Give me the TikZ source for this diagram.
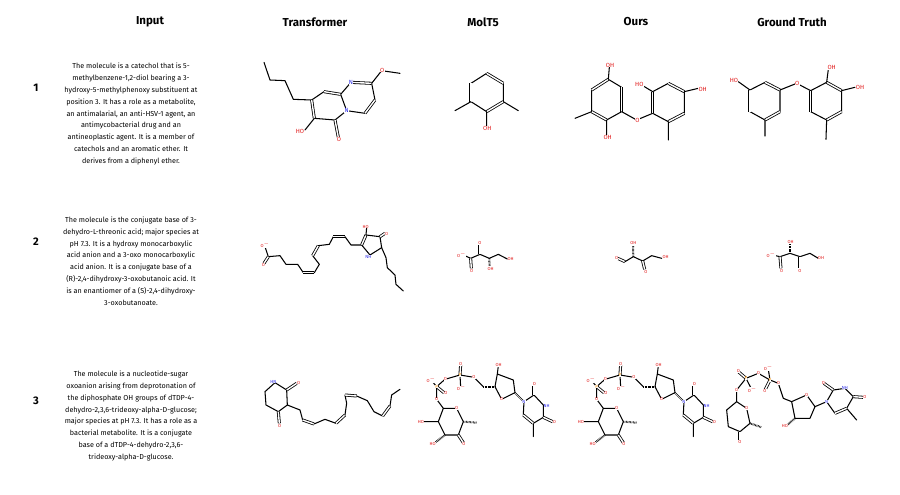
\documentclass[tikz,border=0pt]{standalone}
\usepackage{fontspec}
\setmainfont{Fira Sans}
\begin{document}
\begin{tikzpicture}[x=1pt,y=-1pt,
  bond/.style={line width=1.05pt,black,line cap=round,line join=round},
  dbl/.style={double=white,double distance=1.4pt,line width=0.8pt,black},
  hsh/.style={line width=2pt,black,dash pattern=on 0.6pt off 0.8pt},
  lab/.style={fill=white,inner sep=0.2pt,font=\fontsize{6}{6}\selectfont},
  lbs/.style={fill=white,inner sep=0.1pt,font=\fontsize{4.4}{5}\selectfont},
  head/.style={font=\bfseries\fontsize{11.5}{13}\selectfont},
  num/.style={font=\bfseries\fontsize{11}{13}\selectfont},
  desc/.style={align=center,font=\fontsize{7.2}{11.8}\selectfont}]
\newcommand\lb[4]{\node[lab,text=#4] at (#1,#2) {#3};}
\newcommand\ls[4]{\node[lbs,text=#4] at (#1,#2) {#3};}
\definecolor{ored}{RGB}{225,20,20}
\definecolor{nblue}{RGB}{40,40,230}
\definecolor{porange}{RGB}{240,140,0}
\fill[white] (0,0) rectangle (900,495);
\useasboundingbox (0,0) rectangle (900,495);
% headers
\node[head] (h1) at (150,22) {Input};
\node[head] (h2) at (315,22) {Transformer};
\node[head] (h3) at (483,22) {MolT5};
\node[head] (h4) at (636,22) {Ours};
\node[head] (h5) at (792,22) {Ground Truth};
\node[num] (n1) at (36,88) {1};
\node[num] (n2) at (36,242) {2};
\node[num] (n3) at (36,401) {3};
\node[desc] (d1) at (131,114) {The molecule is a catechol that is 5-\\methylbenzene-1,2-diol bearing a 3-\\hydroxy-5-methylphenoxy substituent at\\position 3. It has a role as a metabolite,\\an antimalarial, an anti-HSV-1 agent, an\\antimycobacterial drug and an\\antineoplastic agent. It is a member of\\catechols and an aromatic ether. It\\derives from a diphenyl ether.};
\node[desc] (d2) at (131,261) {The molecule is the conjugate base of 3-\\dehydro-L-threonic acid; major species at\\pH 7.3. It is a hydroxy monocarboxylic\\acid anion and a 3-oxo monocarboxylic\\acid anion. It is a conjugate base of a\\(R)-2,4-dihydroxy-3-oxobutanoic acid. It\\is an enantiomer of a (S)-2,4-dihydroxy-\\3-oxobutanoate.};
\node[desc] (d3) at (131,416) {The molecule is a nucleotide-sugar\\oxoanion arising from deprotonation of\\the diphosphate OH groups of dTDP-4-\\dehydro-2,3,6-trideoxy-alpha-D-glucose;\\major species at pH 7.3. It has a role as a\\bacterial metabolite. It is a conjugate\\base of a dTDP-4-dehydro-2,3,6-\\trideoxy-alpha-D-glucose.};
% ---------- row 1
\begin{scope}[xshift=250pt,yshift=-50pt,x=0.3333pt,y=-0.3333pt]
% Transformer
\draw[bond] (42,37)--(60,90)--(105,92)--(130,148)--(185,150);
\draw[bond] (222,125)--(185,150) (272,133)--(290,182)--(255,210) (193,205)--(255,210);
\draw[dbl] (185,150)--(193,205);
\draw[dbl] (222,125)--(272,133);
\draw[bond] (272,133)--(303,97) (365,100)--(375,150) (345,190)--(290,182);
\draw[dbl] (303,97)--(365,100);
\draw[dbl] (375,150)--(345,190);
\draw[bond] (193,205)--(165,240) (365,100)--(395,62)--(450,70);
\draw[dbl] (255,210)--(265,262);
\lb{303}{97}{N}{nblue} \lb{290}{182}{N}{nblue}
\lb{150}{245}{HO}{ored} \lb{267}{268}{O}{ored} \lb{397}{60}{O}{ored}
% MolT5
\draw[bond] (663,100)--(710,70) (760,100)--(760,155) (710,185)--(663,155);
\draw[dbl] (710,70)--(760,100);
\draw[dbl] (760,155)--(710,185);
\draw[dbl] (663,155)--(663,100);
\draw[bond] (663,155)--(615,182) (760,155)--(805,182) (710,185)--(710,228);
\lb{712}{236}{OH}{ored}
\end{scope}
\begin{scope}[xshift=570pt,yshift=-50pt,x=0.3333pt,y=-0.3333pt]
% Ours
\draw[bond] (115,88)--(155,112) (155,185)--(110,210) (65,185)--(65,120);
\draw[dbl] (155,112)--(155,185);
\draw[dbl] (110,210)--(65,185);
\draw[dbl] (65,120)--(115,88);
\draw[bond] (115,88)--(118,52) (65,185)--(15,205) (110,210)--(110,255) (155,185)--(200,210)--(248,190);
\draw[bond] (248,125)--(295,100) (343,125)--(343,190) (295,215)--(248,190);
\draw[dbl] (295,100)--(343,125);
\draw[dbl] (343,190)--(295,215);
\draw[dbl] (248,190)--(248,125);
\draw[bond] (248,125)--(215,105) (343,125)--(385,115) (295,215)--(295,270);
\lb{120}{45}{OH}{ored} \lb{113}{263}{OH}{ored} \lb{202}{212}{O}{ored}
\lb{208}{103}{HO}{ored} \lb{398}{117}{OH}{ored}
% Ground truth
\draw[bond] (540,120)--(585,97) (630,120)--(630,185) (585,210)--(540,185);
\draw[dbl] (585,97)--(630,120);
\draw[dbl] (630,185)--(585,210);
\draw[dbl] (540,185)--(540,120);
\draw[bond] (540,120)--(505,95) (585,210)--(585,258) (630,120)--(680,100)--(722,122);
\draw[bond] (722,122)--(770,97) (815,122)--(815,185) (770,210)--(722,185);
\draw[dbl] (770,97)--(815,122);
\draw[dbl] (815,185)--(770,210);
\draw[dbl] (722,185)--(722,122);
\draw[bond] (770,97)--(775,58) (815,122)--(855,112) (770,210)--(768,268);
\lb{492}{92}{HO}{ored} \lb{682}{100}{O}{ored} \lb{785}{52}{OH}{ored} \lb{870}{113}{OH}{ored}
\end{scope}
% ---------- row 2
\begin{scope}[xshift=250pt,yshift=-225pt,x=0.3333pt,y=-0.3333pt]
\draw[bond] (45,65)--(55,95) (55,95)--(90,92)--(108,118)--(143,118)--(160,143);
\draw[dbl] (55,95)--(42,115);
\draw[dbl] (160,143)--(193,143);
\draw[bond] (193,143)--(208,118)--(188,92);
\draw[dbl] (188,92)--(205,62);
\draw[bond] (205,62)--(238,58)--(250,35);
\draw[dbl] (250,35)--(285,35);
\draw[bond] (285,35)--(303,60)--(335,60);
\draw[dbl] (335,60)--(348,30);
\draw[bond] (348,30)--(390,35)--(395,68)--(360,90)--(335,60);
\draw[bond] (348,30)--(350,8);
\draw[dbl] (390,35)--(405,25);
\draw[bond] (395,68)--(408,98)--(412,128)--(435,150)--(438,178)--(460,198);
\ls{45}{60}{O$^-$}{ored} \ls{40}{120}{O}{ored} \ls{347}{5}{HO}{ored} \ls{410}{27}{O}{ored} \ls{355}{96}{NH}{nblue}
% MolT5
\draw[bond] (662,100)--(690,88)--(718,100)--(745,88)--(772,102) (662,100)--(640,90);
\draw[dbl] (662,100)--(664,130);
\draw[dbl] (690,88)--(690,60);
\draw[hsh] (718,100)--(719,125);
\ls{635}{90}{O$^-$}{ored} \ls{665}{138}{O}{ored} \ls{690}{55}{O}{ored} \ls{722}{133}{OH}{ored} \ls{782}{102}{OH}{ored}
\end{scope}
\begin{scope}[xshift=570pt,yshift=-225pt,x=0.3333pt,y=-0.3333pt]
\draw[dbl] (165,110)--(143,100);
\draw[bond] (165,110)--(190,95)--(218,108)--(245,92)--(275,100);
\draw[hsh] (190,95)--(189,63);
\draw[dbl] (218,108)--(224,133);
\ls{140}{100}{O}{ored} \ls{190}{55}{OH}{ored} \ls{228}{140}{O}{ored} \ls{287}{96}{OH}{ored}
% GT
\draw[bond] (630,95)--(608,90) (630,95)--(660,85)--(690,95)--(720,85)--(745,100);
\draw[dbl] (630,95)--(633,130);
\draw[hsh] (660,85)--(660,58);
\draw[dbl] (690,95)--(690,130);
\ls{603}{90}{O$^-$}{ored} \ls{635}{139}{O}{ored} \ls{662}{50}{OH}{ored} \ls{690}{138}{O}{ored} \ls{753}{100}{OH}{ored}
\end{scope}
% ---------- row 3
\newcommand\nucA{%
\draw[bond] (545,122)--(560,140) (560,140)--(585,118)--(630,105) (560,140)--(560,178)--(580,205);
\draw[dbl] (560,140)--(582,158);
\draw[dbl] (630,105)--(632,75);
\draw[bond] (630,105)--(632,140) (630,105)--(672,112)--(700,140);
\draw[hsh] (700,140)--(735,140);
\draw[bond] (735,140)--(742,102)--(790,120)--(795,158)--(755,178)--(735,140) (742,102)--(745,78);
\draw[hsh] (795,158)--(822,185);
\draw[bond] (822,185)--(852,165)--(880,195)--(880,232)--(850,250) (820,225)--(822,185) (850,250)--(850,290);
\draw[dbl] (850,250)--(820,225);
\draw[dbl] (852,165)--(852,137);
\draw[dbl] (880,232)--(908,245);
\draw[bond] (580,205)--(620,205)--(640,245)--(625,285)--(585,285)--(565,245)--(580,205) (565,245)--(522,245);
\draw[hsh] (640,245)--(680,248);
\draw[hsh] (585,285)--(555,308);
\draw[dbl] (625,285)--(640,308);
\ls{543}{120}{O$^-$}{ored} \ls{560}{140}{P}{porange} \ls{588}{160}{O}{ored} \ls{586}{117}{O}{ored}
\ls{560}{178}{O}{ored} \ls{630}{105}{P}{porange} \ls{632}{72}{O}{ored} \ls{634}{145}{O$^-$}{ored}
\ls{672}{112}{O}{ored} \ls{755}{178}{O}{ored} \ls{746}{75}{OH}{ored} \ls{822}{185}{N}{nblue}
\ls{853}{132}{O}{ored} \ls{890}{198}{NH}{nblue} \ls{913}{246}{O}{ored} \ls{620}{205}{O}{ored}
\ls{642}{312}{O}{ored} \ls{548}{312}{HO}{ored} \ls{513}{245}{HO}{ored}}
\begin{scope}[xshift=250pt,yshift=-340pt,x=0.3333pt,y=-0.3333pt]
\draw[bond] (75,128)--(110,150)--(112,195)--(85,215)--(48,195)--(45,155)--(75,128);
\draw[dbl] (110,150)--(140,130);
\draw[dbl] (85,215)--(88,250);
\draw[bond] (112,195)--(150,210)--(158,240);
\draw[dbl] (158,240)--(192,252);
\draw[bond] (192,252)--(225,238)--(258,250);
\draw[dbl] (258,250)--(285,225);
\draw[bond] (285,225)--(290,190)--(285,165);
\draw[dbl] (285,165)--(320,168);
\draw[bond] (320,168)--(352,182)--(372,215)--(398,228);
\draw[dbl] (398,228)--(420,198);
\draw[bond] (420,198)--(425,165)--(450,148);
\ls{70}{125}{HN}{nblue} \ls{146}{128}{O}{ored} \ls{89}{257}{O}{ored}
\nucA
\end{scope}
\begin{scope}[xshift=410pt,yshift=-340pt,x=0.3333pt,y=-0.3333pt]
\nucA
\end{scope}
\begin{scope}[xshift=570pt,yshift=-340pt,x=0.3333pt,y=-0.3333pt]
\draw[dbl] (528,115)--(505,95);
\draw[bond] (528,115)--(545,148) (528,115)--(565,100)--(600,120) (528,115)--(500,150)--(500,185);
\draw[bond] (600,120)--(595,88) (600,120)--(625,130)--(640,175)--(665,185);
\draw[dbl] (600,120)--(585,150);
\draw[bond] (665,185)--(710,165)--(735,200)--(720,235)--(675,235)--(665,185);
\draw[hsh] (675,235)--(652,255);
\draw[bond] (735,200)--(770,185)--(790,150)--(825,145)--(850,170)--(830,205) (795,220)--(770,185) (830,205)--(860,240);
\draw[dbl] (830,205)--(795,220);
\draw[dbl] (790,150)--(762,130);
\draw[dbl] (850,170)--(880,172);
\draw[bond] (500,185)--(530,205)--(540,250)--(510,275)--(475,260)--(470,210)--(500,185);
\draw[hsh] (540,250)--(575,262);
\draw[dbl] (510,275)--(510,300);
\ls{505}{93}{O}{ored} \ls{528}{115}{P}{porange} \ls{547}{150}{O$^-$}{ored} \ls{565}{100}{O}{ored}
\ls{500}{150}{O}{ored} \ls{600}{120}{P}{porange} \ls{595}{84}{O$^-$}{ored} \ls{585}{153}{O}{ored}
\ls{625}{130}{O}{ored} \ls{710}{165}{O}{ored} \ls{645}{257}{HO}{ored} \ls{770}{185}{N}{nblue}
\ls{760}{128}{O}{ored} \ls{825}{143}{NH}{nblue} \ls{885}{172}{O}{ored} \ls{530}{205}{O}{ored} \ls{510}{305}{O}{ored}
\end{scope}
\end{tikzpicture}
\end{document}
